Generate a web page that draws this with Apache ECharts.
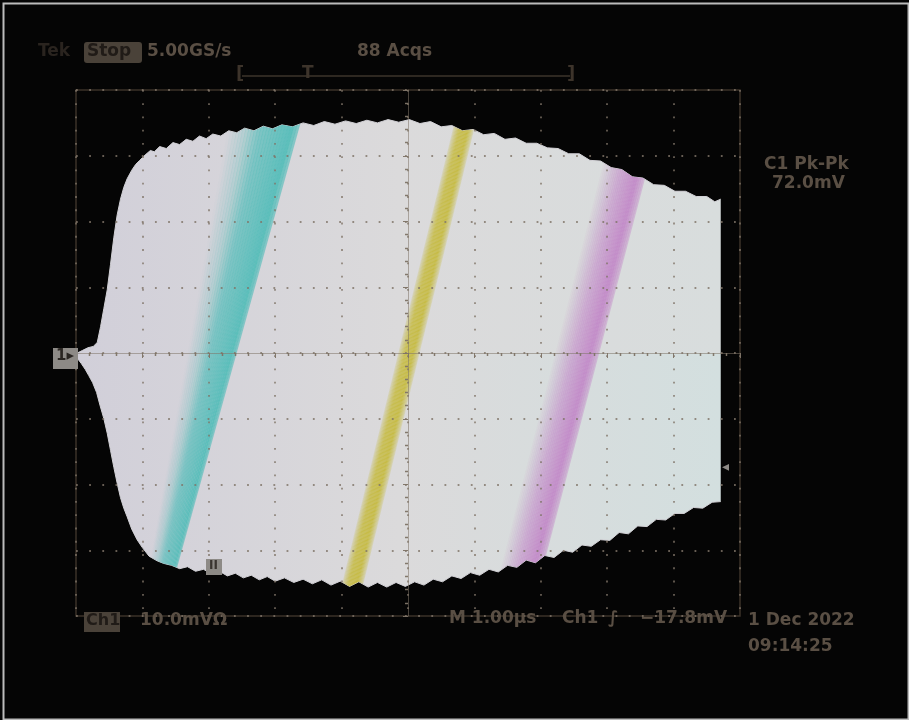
<!DOCTYPE html>
<html><head><meta charset="utf-8">
<script src="https://cdn.jsdelivr.net/npm/echarts@6/dist/echarts.min.js"></script>
<style>html,body{margin:0;padding:0;background:#050505}#c{width:909px;height:720px}</style>
</head><body><div id="c"></div>
<script>
// time in µs (1 µs/div), voltage in mV (10 mV/div)
const upperEnvelope = [
[-4.98,0.0],[-4.90,0.4],[-4.82,0.8],[-4.74,1.0],[-4.68,1.6],[-4.63,4.0],[-4.58,6.8],[-4.53,9.6],
[-4.48,13.5],[-4.43,17.6],[-4.38,21.0],[-4.33,23.4],[-4.28,25.2],[-4.23,26.5],[-4.16,27.8],[-4.10,28.7],
[-4.04,29.3],[-3.96,30.1],[-3.88,30.8],[-3.82,30.6],[-3.74,31.4],[-3.64,31.1],[-3.54,32.0],[-3.44,31.7],[-3.34,32.5],
[-3.24,32.2],[-3.14,33.0],[-3.04,32.6],[-2.94,33.3],[-2.82,33.0],[-2.70,33.8],[-2.58,33.5],[-2.46,34.2],
[-2.32,33.8],[-2.18,34.5],[-2.04,34.1],[-1.90,34.7],[-1.74,34.4],[-1.58,35.0],[-1.42,34.6],[-1.26,35.2],
[-1.10,34.8],[-0.94,35.3],[-0.78,34.9],[-0.62,35.4],[-0.46,35.0],[-0.30,35.5],[-0.14,35.1],[0.02,35.5],
[0.18,34.9],[0.34,35.2],[0.50,34.4],[0.66,34.6],[0.82,33.8],[0.98,34.0],[1.14,33.2],[1.30,33.4],
[1.46,32.5],[1.62,32.7],[1.78,31.9],[1.94,31.9],[2.10,31.2],[2.26,31.1],[2.42,30.3],[2.58,30.3],
[2.74,29.3],[2.90,29.2],[3.06,28.2],[3.22,27.9],[3.38,26.8],[3.54,26.6],[3.70,25.6],[3.86,25.5],
[4.02,24.6],[4.18,24.6],[4.34,23.8],[4.50,23.8],[4.62,23.0],[4.71,23.4]
];
const lowerEnvelope = [
[-4.98,-0.8],[-4.92,-1.6],[-4.86,-2.5],[-4.81,-3.4],[-4.75,-4.5],[-4.69,-6.0],[-4.64,-7.9],[-4.58,-10.0],
[-4.53,-12.2],[-4.48,-14.8],[-4.43,-17.4],[-4.38,-19.8],[-4.33,-22.0],[-4.28,-23.6],[-4.23,-24.9],[-4.16,-26.8],
[-4.08,-28.4],[-4.00,-29.6],[-3.90,-30.9],[-3.78,-31.6],[-3.68,-32.0],[-3.56,-32.3],[-3.44,-32.8],[-3.32,-32.5],[-3.20,-33.2],
[-3.08,-32.9],[-2.96,-33.6],[-2.84,-33.2],[-2.72,-33.9],[-2.60,-33.5],[-2.48,-34.2],[-2.36,-33.8],[-2.24,-34.5],
[-2.12,-34.0],[-2.00,-34.7],[-1.86,-34.2],[-1.72,-34.9],[-1.58,-34.4],[-1.44,-35.1],[-1.30,-34.5],[-1.16,-35.3],
[-1.02,-34.7],[-0.88,-35.5],[-0.74,-34.8],[-0.60,-35.6],[-0.46,-34.9],[-0.32,-35.6],[-0.18,-34.9],[-0.04,-35.5],
[0.10,-34.8],[0.24,-35.3],[0.38,-34.4],[0.52,-34.8],[0.66,-33.9],[0.80,-34.3],[0.94,-33.4],[1.08,-33.8],
[1.22,-32.9],[1.36,-33.3],[1.50,-32.3],[1.64,-32.6],[1.78,-31.5],[1.92,-31.9],[2.06,-30.8],[2.20,-31.1],
[2.34,-30.0],[2.48,-30.3],[2.62,-29.2],[2.76,-29.4],[2.90,-28.4],[3.04,-28.5],[3.18,-27.3],[3.32,-27.5],
[3.46,-26.3],[3.60,-26.4],[3.74,-25.3],[3.88,-25.4],[4.02,-24.4],[4.16,-24.4],[4.30,-23.5],[4.44,-23.6],
[4.58,-22.7],[4.71,-22.6]
];
// colour bands: x (µs) of [top-left, top-right, bottom-left, bottom-right] at the y values below
const bandEdgeY = [40, -40];
const cyanBand = [-2.61, -1.48, -4.03, -3.68];
const yellowBand = [0.82, 1.14, -1.11, -0.79];
const magentaBand = [3.22, 3.92, 1.22, 1.84];

const bands = [
  {edges: cyanBand, color: 'rgb(80,188,184)', profile: [[0,0],[0.25,0.25],[0.45,0.65],[0.9,0.9],[1,0.55]]},
  {edges: yellowBand, color: 'rgb(196,184,50)', profile: [[0,0.15],[0.3,0.8],[0.7,0.9],[1,0.15]]},
  {edges: magentaBand, color: 'rgb(192,128,198)', profile: [[0,0.03],[0.4,0.5],[0.8,0.85],[1,0.35]]}
];

function interp(prof, t) {
  for (let i = 1; i < prof.length; i++) {
    if (t <= prof[i][0]) {
      const a = prof[i-1], b = prof[i];
      return a[1] + (b[1]-a[1]) * (t - a[0]) / (b[0] - a[0]);
    }
  }
  return prof[prof.length-1][1];
}
function lerp(p, q, t) { return [p[0] + (q[0]-p[0])*t, p[1] + (q[1]-p[1])*t]; }

function renderBand(params, api) {
  const b = bands[api.value(0)];
  const poly = upperEnvelope.map(p => api.coord(p))
    .concat(lowerEnvelope.slice().reverse().map(p => api.coord(p)));
  const tl = api.coord([b.edges[0], bandEdgeY[0]]);
  const tr = api.coord([b.edges[1], bandEdgeY[0]]);
  const bl = api.coord([b.edges[2], bandEdgeY[1]]);
  const br = api.coord([b.edges[3], bandEdgeY[1]]);
  const N = 24, children = [];
  for (let k = 0; k < N; k++) {
    const t0 = k / N, t1 = Math.min(1, (k + 1.15) / N), tm = (k + 0.5) / N;
    children.push({
      type: 'polygon',
      shape: {points: [lerp(tl,tr,t0), lerp(tl,tr,t1), lerp(bl,br,t1), lerp(bl,br,t0)]},
      style: {fill: b.color, opacity: interp(b.profile, tm)}
    });
  }
  return {type: 'group', clipPath: {type: 'polygon', shape: {points: poly}}, children};
}

const txt = '#5a4f44';
const font = '"DejaVu Sans", sans-serif';
function label(x, y, s, opt) {
  return Object.assign({type: 'text', left: x, top: y, z: 20,
    style: {text: s, fill: txt, font: 'bold 17px ' + font}}, opt || {});
}
const gridCol = 'rgba(128,116,104,0.8)';
const axisCommon = {type: 'value', axisLabel: {show: false}, z: 10};

const chart = echarts.init(document.getElementById('c'));
chart.setOption({
  backgroundColor: '#050505',
  animation: false,
  grid: {left: 76, right: 169, top: 90, bottom: 104, show: true, borderColor: '#3b3229', borderWidth: 1.5, backgroundColor: 'transparent'},
  xAxis: [
    Object.assign({}, axisCommon, {min: -5, max: 5, interval: 1,
      axisLine: {show: true, onZero: true, lineStyle: {color: 'rgba(128,116,104,0.55)', width: 1}},
      axisTick: {show: true, length: 5, inside: false, lineStyle: {color: gridCol}},
      minorTick: {show: true, splitNumber: 5, length: 3, lineStyle: {color: gridCol, width: 1.3}},
      splitLine: {show: true, lineStyle: {color: gridCol, width: 1.8, type: [1.8, 11.46]}}}),
    Object.assign({}, axisCommon, {min: -5, max: 5, interval: 1,
      axisLine: {show: false, onZero: true},
      axisTick: {show: true, length: 5, inside: true, lineStyle: {color: gridCol}},
      minorTick: {show: true, splitNumber: 5, length: 3, lineStyle: {color: gridCol, width: 1.3}},
      splitLine: {show: false}})
  ],
  yAxis: [
    Object.assign({}, axisCommon, {min: -40, max: 40, interval: 10,
      axisLine: {show: true, onZero: true, lineStyle: {color: 'rgba(128,116,104,0.55)', width: 1}},
      axisTick: {show: true, length: 5, inside: false, lineStyle: {color: gridCol}},
      minorTick: {show: true, splitNumber: 5, length: 3, lineStyle: {color: gridCol, width: 1.3}},
      splitLine: {show: true, lineStyle: {color: gridCol, width: 1.8, type: [1.8, 11.36]}}}),
    Object.assign({}, axisCommon, {min: -40, max: 40, interval: 10,
      axisLine: {show: false, onZero: true},
      axisTick: {show: true, length: 5, inside: true, lineStyle: {color: gridCol}},
      minorTick: {show: true, splitNumber: 5, length: 3, lineStyle: {color: gridCol, width: 1.3}},
      splitLine: {show: false}})
  ],
  series: [
    {type: 'line', data: upperEnvelope, symbol: 'none', z: 2,
     lineStyle: {color: '#d2d1d6', width: 1},
     areaStyle: {opacity: 1, color: new echarts.graphic.LinearGradient(0,0,1,0,[
       {offset: 0, color: '#d1cfd9'}, {offset: 0.5, color: '#dbdadb'}, {offset: 1, color: '#d8dddd'}])}},
    {type: 'line', data: lowerEnvelope, symbol: 'none', z: 2,
     lineStyle: {color: '#d2d1d6', width: 1},
     areaStyle: {opacity: 1, color: new echarts.graphic.LinearGradient(0,0,1,0,[
       {offset: 0, color: '#d1cfd9'}, {offset: 0.5, color: '#dbdadb'}, {offset: 1, color: '#d3dfdf'}])}},
    {type: 'custom', renderItem: renderBand, data: [[0,0],[1,0],[2,0]], z: 3}
  ],
  graphic: [
    {type: 'rect', left: 1, top: 1, z: 30, shape: {width: 905, height: 716},
     style: {fill: 'none', stroke: '#bcbcbc', lineWidth: 2}},
    label(38, 43, 'Tek', {style: {text: 'Tek', fill: '#2a241f', font: 'bold 17px ' + font}}),
    {type: 'rect', left: 84, top: 42, z: 20, shape: {width: 58, height: 21, r: 3}, style: {fill: '#4a4239'}},
    label(87, 43, 'Stop', {style: {text: 'Stop', fill: '#201b17', font: 'bold 17px ' + font}}),
    label(147, 43, '5.00GS/s'),
    label(357, 43, '88 Acqs'),
    {type: 'line', z: 20, shape: {x1: 242, y1: 76, x2: 570, y2: 76}, style: {stroke: '#3d342b', lineWidth: 1.5}},
    label(236, 65, '[', {style: {text: '[', fill: '#3d342b', font: 'bold 18px ' + font}}),
    label(567, 65, ']', {style: {text: ']', fill: '#3d342b', font: 'bold 18px ' + font}}),
    label(302, 65, 'T', {style: {text: 'T', fill: '#3d342b', font: 'bold 17px ' + font}}),
    label(764, 156, 'C1 Pk-Pk'),
    label(772, 175, '72.0mV'),
    {type: 'rect', left: 84, top: 612, z: 20, shape: {width: 36, height: 20}, style: {fill: '#4a4239'}},
    label(86, 613, 'Ch1', {style: {text: 'Ch1', fill: '#201b17', font: 'bold 16px ' + font}}),
    label(140, 612, '10.0mVΩ'),
    label(449, 610, 'M 1.00µs'),
    label(562, 610, 'Ch1'),
    label(608, 610, '∫'),
    label(640, 610, '−17.8mV'),
    label(748, 612, '1 Dec 2022'),
    label(748, 638, '09:14:25'),
    {type: 'rect', left: 53, top: 348, z: 20, shape: {width: 25, height: 21}, style: {fill: '#8d8a86'}},
    label(56, 349, '1▸', {style: {text: '1▸', fill: '#2a2622', font: 'bold 15px ' + font}}),
    {type: 'rect', left: 206, top: 559, z: 20, shape: {width: 16, height: 16}, style: {fill: '#8d8a86'}},
    label(209, 560, 'II', {style: {text: 'II', fill: '#3a3530', font: 'bold 12px ' + font}}),
    label(722, 460, '◂', {style: {text: '◂', fill: '#8d8a86', font: '14px ' + font}})
  ]
});
</script></body></html>
